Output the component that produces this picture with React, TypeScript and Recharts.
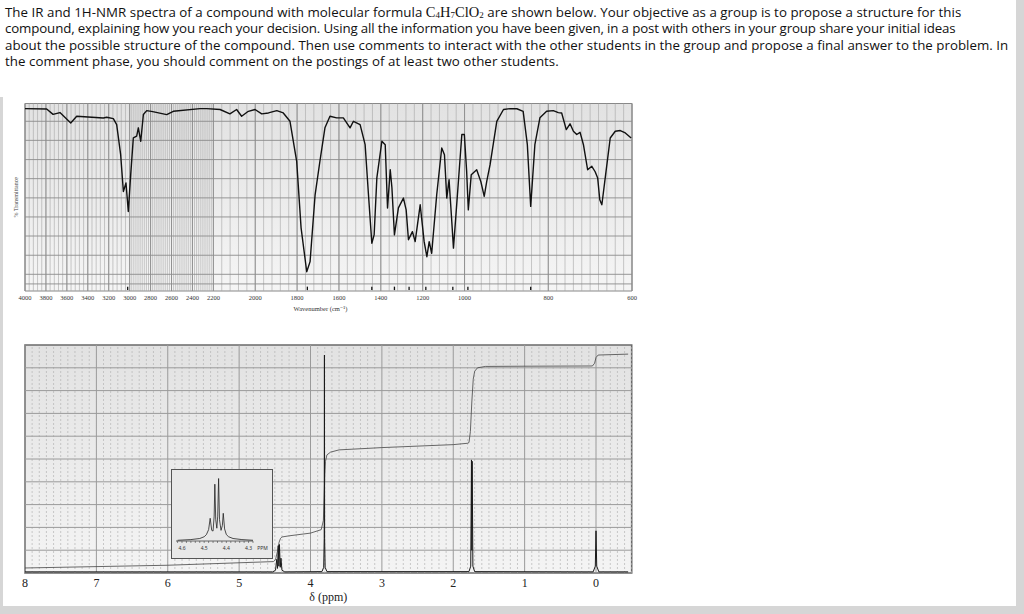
import React from "react";
import {
  CartesianGrid,
  Line,
  LineChart,
  ReferenceArea,
  ReferenceLine,
  XAxis,
  YAxis,
} from "recharts";

// ---- IR spectrum (wavenumber in cm-1, % transmittance)
const irWave = [
  4000, 3793, 3732, 3666, 3563, 3506, 3252, 3219, 3156, 3124, 3086, 3060, 3035,
  3013, 2990, 2965, 2933, 2917, 2894, 2869, 2837, 2780, 2646, 2583, 2327, 2264,
  2168, 2121, 2089, 2065, 2033, 2001, 1969, 1937, 1897, 1866, 1834, 1802, 1781,
  1754, 1738, 1714, 1690, 1667, 1643, 1611, 1579, 1547, 1531, 1499, 1475, 1459,
  1443, 1432, 1419, 1395, 1379, 1368, 1355, 1347, 1335, 1316, 1292, 1279, 1268,
  1249, 1236, 1212, 1193, 1180, 1169, 1157, 1133, 1109, 1096, 1085, 1074, 1061,
  1053, 1034, 1013, 1001, 995, 991, 984, 971, 961, 953, 947, 939, 923, 907, 891,
  875, 860, 850, 842, 832, 820, 804, 788, 776, 768, 757, 748, 740, 732, 724, 716,
  706, 696, 688, 682, 677, 672, 663, 652, 640, 628, 616, 602,
];
const irTrans = [
  97.2, 97, 94, 95, 89.3, 93, 92, 92.4, 91.7, 88.4, 71.8, 51.5, 56.2, 40.5, 60.8,
  81, 82, 86.6, 79.2, 93.9, 96.1, 95.5, 93.9, 95.7, 97.2, 97.2, 96.7, 94.3, 96.7,
  93, 95.7, 96.7, 94.3, 94.8, 96.1, 94.8, 90.2, 68.1, 31.5, 7.3, 12.9, 49.7, 69,
  86.6, 93, 92.1, 92.1, 86.6, 90.2, 88.4, 77.3, 49.7, 23, 27.6, 59, 79.2, 77.3,
  42.4, 63.5, 53.6, 27.6, 42.5, 47.9, 41.4, 24.9, 29.4, 23.9, 44.2, 23.9, 15.6,
  23.9, 17.5, 49.7, 75.5, 71.8, 47.9, 58, 35, 20.3, 49.7, 82.9, 82.9, 62.6, 41.4,
  60.8, 63.5, 56.9, 48.8, 57.1, 66.3, 90.2, 96.7, 97.2, 97.1, 95.7, 77.3, 43.3,
  77.3, 92.1, 95.7, 96.1, 95, 94.8, 85.6, 88.8, 84.7, 82.9, 84.1, 77.3, 63.5,
  65.4, 62.4, 59, 47, 44.2, 60.8, 81, 84.7, 85.1, 83.8, 81,
];
const irTickLabels = [
  4000, 3800, 3600, 3400, 3200, 3000, 2800, 2600, 2400, 2200, 2000, 1800, 1600,
  1400, 1200, 1000, 800, 600,
];
const irMarkers = [3019, 1751, 1443, 1335, 1265, 1185, 1056, 992, 842];
const irRows = [90.2, 79.7, 69.1, 58.6, 48.0, 37.5, 27.0, 16.4, 5.9, 0.6];

// ---- 1H NMR (ppm, relative height)
const nmrPpm = [
  8.0, 4.53, 4.49, 4.473, 4.462, 4.452, 4.443, 4.435, 4.424, 4.414, 4.4, 4.36,
  3.84, 3.815, 3.808, 3.805, 3.802, 3.795, 3.77, 1.78, 1.755, 1.745, 1.74, 1.735,
  1.725, 1.7, 0.04, 0.01, 0.0, -0.01, -0.04, -0.45,
];
const nmrInt = [
  0.05, 0.05, 0.12, 0.6, 0.2, 1.2, 0.3, 1.25, 0.25, 0.65, 0.12, 0.05, 0.06, 0.25,
  1.5, 9.56, 1.5, 0.25, 0.06, 0.06, 0.3, 4.96, 1.0, 4.9, 0.3, 0.06, 0.05, 0.3,
  1.85, 0.3, 0.05, 0.05,
];
const integPpm = [
  8.0, 6.0, 4.52, 4.49, 4.46, 4.44, 4.42, 4.4, 4.3, 4.0, 3.85, 3.82, 3.81, 3.8,
  3.79, 3.77, 3.72, 3.6, 3.0, 2.0, 1.8, 1.78, 1.76, 1.74, 1.72, 1.7, 1.66, 1.55,
  1.0, 0.05, 0.02, 0.0, -0.03, -0.45,
];
const integVal = [
  0.22, 0.34, 0.5, 0.58, 1.0, 1.35, 1.52, 1.58, 1.63, 1.75, 1.9, 2.3, 3.2, 4.3,
  4.9, 5.18, 5.3, 5.4, 5.5, 5.63, 5.69, 5.72, 6.2, 7.5, 8.5, 8.85, 9.0, 9.06,
  9.07, 9.08, 9.2, 9.45, 9.56, 9.6,
];
const nmrTicks = [0, 1, 2, 3, 4, 5, 6, 7, 8];

// ---- inset: expanded quartet near 4.44 ppm
const insetPpm = [
  4.62, 4.56, 4.52, 4.5, 4.49, 4.48, 4.473, 4.466, 4.46, 4.455, 4.452, 4.448,
  4.443, 4.439, 4.435, 4.431, 4.424, 4.418, 4.414, 4.408, 4.4, 4.39, 4.37, 4.33,
  4.28,
];
const insetInt = [
  0.01, 0.02, 0.035, 0.06, 0.09, 0.16, 0.32, 0.15, 0.14, 0.35, 0.8, 0.3, 0.18,
  0.35, 0.88, 0.3, 0.15, 0.22, 0.39, 0.17, 0.09, 0.06, 0.035, 0.02, 0.01,
];
const insetTicks = [
  4.62, 4.6, 4.58, 4.56, 4.54, 4.52, 4.5, 4.48, 4.46, 4.44, 4.42, 4.4, 4.38,
  4.36, 4.34, 4.32, 4.3, 4.28,
];

// the IR chart paper is compressed: 4000-2200 at 200/unit, 2200-1000 at 100/unit, 1000-600 at 50/unit
const toU = (w: number) =>
  w >= 2200 ? (4000 - w) / 200 : w >= 1000 ? 9 + (2200 - w) / 100 : 21 + (1000 - w) / 50;

const irData = irWave.map((w, i) => ({ u: toU(w), t: irTrans[i] }));
const nmrData = nmrPpm.map((p, i) => ({ p, v: nmrInt[i] }));
const integData = integPpm.map((p, i) => ({ p, v: integVal[i] }));
const insetData = insetPpm.map((p, i) => ({ p, v: insetInt[i] }));

// chart-paper rulings: sparse on the far left, denser 3000-2200, 0.4 unit on the right
const irMinor: number[] = [];
for (let i = 0; i <= 25; i++) irMinor.push(i * 0.2);
for (let i = 51; i <= 90; i++) irMinor.push(i * 0.1);
for (let j = 1; j <= 50; j++) irMinor.push(9 + j * 0.4);
const irMajor = irTickLabels.map(toU);

const nmrMinor: number[] = [];
for (let i = 0; i <= 85; i++) nmrMinor.push(Math.round((-0.5 + i * 0.1) * 10) / 10);

const serif = "'Liberation Serif', 'DejaVu Serif', serif";

const IrChart = () => (
  <LineChart width={645} height={230} data={irData} margin={{ top: 8.5, right: 13, bottom: 0, left: 0 }}>
    <defs>
      <linearGradient id="irBg" x1="0" y1="0" x2="0" y2="1">
        <stop offset="0" stopColor="#e2e2e2" />
        <stop offset="1" stopColor="#f5f5f5" />
      </linearGradient>
    </defs>
    <CartesianGrid horizontal={false} vertical={false} fill="url(#irBg)" />
    <XAxis
      type="number"
      dataKey="u"
      domain={[0, 29]}
      ticks={irMajor}
      interval={0}
      tickFormatter={(u: number) => String(irTickLabels[irMajor.indexOf(u)] ?? "")}
      tickLine={false}
      axisLine={false}
      tickSize={2}
      height={34}
      tick={{ fontSize: 6.5, fontFamily: serif, fill: "#333" }}
      label={{
        value: "Wavenumber (cm\u207B\u00B9)",
        position: "insideBottom",
        offset: 14,
        dx: -8,
        style: { fontSize: 6.5, fontFamily: serif, fill: "#333" },
      }}
    />
    <YAxis
      type="number"
      domain={[-3.3, 100]}
      width={25}
      tick={false}
      tickLine={false}
      axisLine={false}
      label={{
        value: "% Transmittance",
        angle: -90,
        position: "center",
        dx: 3,
        style: { fontSize: 6, fontFamily: serif, fill: "#444" },
      }}
    />
    {irMinor.map((u) => (
      <ReferenceLine key={"m" + u} x={u} stroke="#a6a6a6" strokeWidth={0.6} />
    ))}
    {irMajor.map((u) => (
      <ReferenceLine key={"M" + u} x={u} stroke="#8a8a8a" strokeWidth={0.9} />
    ))}
    {irRows.map((t) => (
      <ReferenceLine key={"r" + t} y={t} stroke="#8c8c8c" strokeWidth={0.9} />
    ))}
    <ReferenceArea x1={0} x2={29} y1={-3.3} y2={100} fill="none" stroke="#888" strokeWidth={1} />
    {irMarkers.map((w) => (
      <ReferenceLine
        key={"k" + w}
        segment={[
          { x: toU(w), y: -2.8 },
          { x: toU(w), y: -0.9 },
        ]}
        stroke="#111"
        strokeWidth={1.3}
      />
    ))}
    <Line
      type="linear"
      dataKey="t"
      stroke="#111"
      strokeWidth={1.4}
      strokeLinejoin="round"
      dot={false}
      isAnimationActive={false}
    />
  </LineChart>
);

const NmrChart = () => (
  <LineChart width={645} height={268} margin={{ top: 5, right: 13.3, bottom: 0, left: 25 }}>
    <defs>
      <linearGradient id="nmrBg" x1="0" y1="0" x2="0" y2="1">
        <stop offset="0" stopColor="#e2e2e2" />
        <stop offset="1" stopColor="#f4f4f4" />
      </linearGradient>
    </defs>
    <CartesianGrid horizontal={false} vertical={false} fill="url(#nmrBg)" />
    <XAxis
      type="number"
      dataKey="p"
      domain={[-0.5, 8]}
      reversed
      ticks={nmrTicks}
      interval={0}
      allowDuplicatedCategory={false}
      tickLine={false}
      axisLine={false}
      tickSize={3}
      height={35}
      tick={{ fontSize: 12, fontFamily: serif, fill: "#222" }}
      label={{
        value: "\u03B4 (ppm)",
        position: "insideBottom",
        offset: 7,
        style: { fontSize: 12, fontFamily: serif, fill: "#222" },
      }}
    />
    <YAxis hide type="number" domain={[0, 10]} />
    {nmrMinor.map((p) =>
      Number.isInteger(p) ? (
        <ReferenceLine key={"n" + p} x={p} stroke="#9a9a9a" strokeWidth={1} />
      ) : (
        <ReferenceLine key={"n" + p} x={p} stroke="#b4b4b4" strokeWidth={0.7} strokeDasharray="2 2" />
      ),
    )}
    {[1, 2, 3, 4, 5, 6, 7, 8, 9].map((v) => (
      <ReferenceLine key={"h" + v} y={v} stroke="#9a9a9a" strokeWidth={1} />
    ))}
    <ReferenceArea x1={-0.5} x2={8} y1={0} y2={10} fill="none" stroke="#6a6a6a" strokeWidth={1.6} />
    <Line
      data={integData}
      type="linear"
      dataKey="v"
      stroke="#444"
      strokeWidth={0.8}
      dot={false}
      isAnimationActive={false}
    />
    <Line
      data={nmrData}
      type="linear"
      dataKey="v"
      stroke="#1a1a1a"
      strokeWidth={1}
      dot={false}
      isAnimationActive={false}
    />
  </LineChart>
);

const InsetTick = (props: any) => {
  const { x, y, payload } = props;
  const v: number = payload.value;
  const major = Math.abs(v * 10 - Math.round(v * 10)) < 1e-6;
  return (
    <g>
      {major && (
        <text x={x} y={y + 5} textAnchor="middle" fontSize={5} fontFamily="'Noto Sans', sans-serif" fill="#333">
          {v.toFixed(1)}
        </text>
      )}
      {Math.abs(v - 4.3) < 1e-6 && (
        <text x={x + 14} y={y + 5} textAnchor="middle" fontSize={5} fontFamily="'Noto Sans', sans-serif" fill="#333">
          PPM
        </text>
      )}
    </g>
  );
};

const Inset = () => (
  <LineChart width={100} height={88} data={insetData} margin={{ top: 0, right: 19, bottom: 0, left: 4 }}>
    <XAxis
      type="number"
      dataKey="p"
      domain={[4.28, 4.627]}
      reversed
      ticks={insetTicks}
      interval={0}
      height={17}
      tickSize={2}
      axisLine={{ stroke: "#444", strokeWidth: 0.8 }}
      tickLine={{ stroke: "#444", strokeWidth: 0.6 }}
      tick={InsetTick}
    />
    <YAxis hide type="number" domain={[0, 1]} />
    <Line type="linear" dataKey="v" stroke="#222" strokeWidth={0.8} dot={false} isAnimationActive={false} />
  </LineChart>
);

const sub = { fontSize: "0.62em", verticalAlign: "-0.15em", lineHeight: 0 } as const;
const lineStyle = (ls: number) => ({ display: "block", height: 16.4, letterSpacing: ls }) as const;

export default function App() {
  return (
    <div
      style={{
        position: "absolute",
        left: 0,
        top: 0,
        width: 1024,
        height: 614,
        background: "#fff",
        overflow: "hidden",
      }}
    >
      <div
        style={{
          position: "absolute",
          left: 5,
          top: 4,
          width: 1012,
          fontFamily: "'Open Sans', sans-serif",
          fontSize: 13.3,
          lineHeight: "16.4px",
          color: "#111",
          whiteSpace: "nowrap",
        }}
      >
        <span style={lineStyle(0.03)}>
          The IR and 1H-NMR spectra of a compound with molecular formula{" "}
          <span style={{ fontFamily: serif, fontSize: 14.5 }}>
            C<sub style={sub}>4</sub>H<sub style={sub}>7</sub>ClO<sub style={sub}>2</sub>
          </span>{" "}
          are shown below. Your objective as a group is to propose a structure for this
        </span>
        <span style={lineStyle(-0.14)}>
          compound, explaining how you reach your decision. Using all the information you have been given, in a post
          with others in your group share your initial ideas
        </span>
        <span style={lineStyle(0.02)}>
          about the possible structure of the compound. Then use comments to interact with the other students in the
          group and propose a final answer to the problem. In
        </span>
        <span style={lineStyle(0.04)}>
          the comment phase, you should comment on the postings of at least two other students.
        </span>
      </div>
      <div style={{ position: "absolute", left: 1016, top: 0, width: 8, height: 614, background: "#d6d6d6" }} />
      <div style={{ position: "absolute", left: 0, top: 97, width: 3, height: 517, background: "#d6d6d6" }} />
      <div style={{ position: "absolute", left: 0, top: 606, width: 1024, height: 8, background: "#d6d6d6" }} />
      <div style={{ position: "absolute", left: 0, top: 95 }}>
        <IrChart />
      </div>
      <div style={{ position: "absolute", left: 0, top: 340 }}>
        <NmrChart />
      </div>
      <div
        style={{
          position: "absolute",
          left: 171,
          top: 469,
          width: 100,
          height: 88,
          border: "1px solid #555",
          background: "#e8e8e8",
        }}
      >
        <Inset />
      </div>
    </div>
  );
}
